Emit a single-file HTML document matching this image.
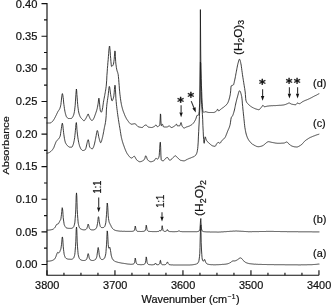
<!DOCTYPE html>
<html><head><meta charset="utf-8"><title>Absorbance spectra</title>
<style>html,body{margin:0;padding:0;background:#fff}svg{display:block}text{font-family:"Liberation Sans",Arial,Helvetica,sans-serif;fill:#111}</style></head><body>
<svg width="331" height="306" viewBox="0 0 331 306">
<rect width="331" height="306" fill="#fff"/>
<g stroke="#111" stroke-width="1.15" fill="none">
<path d="M47.0,3.1 V275.2 H318.9"/>
<path d="M41.5,264.50 H47.0 M44.0,248.19 H47.0 M41.5,231.89 H47.0 M44.0,215.59 H47.0 M41.5,199.28 H47.0 M44.0,182.97 H47.0 M41.5,166.67 H47.0 M44.0,150.37 H47.0 M41.5,134.06 H47.0 M44.0,117.75 H47.0 M41.5,101.45 H47.0 M44.0,85.15 H47.0 M41.5,68.84 H47.0 M44.0,52.53 H47.0 M41.5,36.23 H47.0 M44.0,19.93 H47.0 M41.5,3.62 H47.0 M46.95,275.2 V270.2 M63.95,275.2 V272.7 M80.95,275.2 V272.7 M97.95,275.2 V272.7 M114.95,275.2 V270.2 M131.95,275.2 V272.7 M148.95,275.2 V272.7 M165.95,275.2 V272.7 M182.95,275.2 V270.2 M199.95,275.2 V272.7 M216.95,275.2 V272.7 M233.95,275.2 V272.7 M250.95,275.2 V270.2 M267.95,275.2 V272.7 M284.95,275.2 V272.7 M301.95,275.2 V272.7 M318.95,275.2 V270.2"/>
</g>
<g stroke="#1a1a1a" stroke-width="0.85" fill="none" stroke-linejoin="round" stroke-linecap="round">
<polyline points="47.0,261.3 47.2,261.3 47.5,261.3 47.8,261.3 48.0,261.3 48.2,261.2 48.5,261.2 48.8,261.2 49.0,261.2 49.2,261.1 49.5,261.1 49.8,261.1 50.0,261.0 50.2,261.0 50.5,260.9 50.8,260.9 51.0,260.9 51.2,260.8 51.5,260.7 51.8,260.7 52.0,260.6 52.2,260.5 52.5,260.4 52.8,260.3 53.0,260.2 53.2,260.1 53.5,259.9 53.8,259.8 54.0,259.6 54.2,259.3 54.5,259.1 54.8,258.8 55.0,258.4 55.2,258.0 55.5,257.5 55.8,257.0 56.0,256.4 56.2,255.7 56.5,254.9 56.8,254.2 57.0,253.5 57.2,252.9 57.5,252.5 57.8,252.4 58.0,252.5 58.2,252.6 58.5,252.8 58.8,252.9 59.0,252.8 59.2,252.6 59.5,252.2 59.8,251.7 60.0,251.1 60.2,250.5 60.5,249.9 60.8,249.2 61.0,248.2 61.2,246.8 61.5,244.7 61.8,242.0 62.0,239.1 62.2,237.1 62.5,237.1 62.8,239.4 63.0,242.8 63.2,246.2 63.5,249.2 63.8,251.5 64.0,253.2 64.2,254.5 64.5,255.5 64.8,256.3 65.0,256.9 65.2,257.4 65.5,257.8 65.8,258.1 66.0,258.3 66.2,258.5 66.5,258.6 66.8,258.7 67.0,258.8 67.2,258.9 67.5,259.0 67.8,259.0 68.0,259.1 68.2,259.1 68.5,259.2 68.8,259.2 69.0,259.2 69.2,259.2 69.5,259.2 69.8,259.3 70.0,259.3 70.2,259.3 70.5,259.3 70.8,259.3 71.0,259.3 71.2,259.3 71.5,259.3 71.8,259.2 72.0,259.1 72.2,259.1 72.5,259.0 72.8,258.8 73.0,258.6 73.2,258.4 73.5,258.1 73.8,257.7 74.0,257.2 74.2,256.5 74.5,255.6 74.8,254.3 75.0,252.6 75.2,250.1 75.5,246.6 75.8,241.8 76.0,235.7 76.2,229.7 76.5,227.0 76.8,229.7 77.0,235.8 77.2,241.9 77.5,246.8 77.8,250.3 78.0,252.8 78.2,254.6 78.5,255.9 78.8,256.9 79.0,257.6 79.2,258.2 79.5,258.6 79.8,258.9 80.0,259.2 80.2,259.5 80.5,259.7 80.8,259.8 81.0,260.0 81.2,260.1 81.5,260.2 81.8,260.2 82.0,260.3 82.2,260.4 82.5,260.4 82.8,260.5 83.0,260.5 83.2,260.5 83.5,260.5 83.8,260.5 84.0,260.5 84.2,260.5 84.5,260.5 84.8,260.4 85.0,260.4 85.2,260.3 85.5,260.2 85.8,260.1 86.0,259.9 86.2,259.7 86.5,259.4 86.8,258.9 87.0,258.3 87.2,257.5 87.5,256.4 87.8,255.0 88.0,253.9 88.2,253.6 88.5,254.3 88.8,255.6 89.0,256.9 89.2,257.9 89.5,258.6 89.8,259.1 90.0,259.5 90.2,259.8 90.5,260.0 90.8,260.2 91.0,260.3 91.2,260.3 91.5,260.4 91.8,260.5 92.0,260.5 92.2,260.5 92.5,260.5 92.8,260.5 93.0,260.5 93.2,260.5 93.5,260.4 93.8,260.4 94.0,260.3 94.2,260.2 94.5,260.1 94.8,260.0 95.0,259.8 95.2,259.7 95.5,259.4 95.8,259.1 96.0,258.7 96.2,258.2 96.5,257.6 96.8,256.7 97.0,255.5 97.2,253.9 97.5,251.9 97.8,249.8 98.0,248.0 98.2,247.5 98.5,248.6 98.8,250.6 99.0,252.7 99.2,254.5 99.5,255.8 99.8,256.9 100.0,257.6 100.2,258.2 100.5,258.6 100.8,258.9 101.0,259.1 101.2,259.3 101.5,259.4 101.8,259.5 102.0,259.5 102.2,259.5 102.5,259.5 102.8,259.5 103.0,259.4 103.2,259.3 103.5,259.1 103.8,259.0 104.0,258.7 104.2,258.4 104.5,258.1 104.8,257.6 105.0,257.0 105.2,256.2 105.5,255.1 105.8,253.7 106.0,251.6 106.2,248.8 106.5,244.8 106.8,239.7 107.0,234.2 107.2,230.9 107.5,232.0 107.8,236.3 108.0,241.0 108.2,244.6 108.5,246.9 108.8,248.0 109.0,248.3 109.2,248.0 109.5,247.5 109.8,247.2 110.0,247.7 110.2,248.8 110.5,250.5 110.8,252.2 111.0,253.9 111.2,255.2 111.5,256.3 111.8,257.2 112.0,257.9 112.2,258.5 112.5,259.0 112.8,259.4 113.0,259.8 113.2,260.1 113.5,260.3 113.8,260.5 114.0,260.7 114.2,260.9 114.5,261.1 114.8,261.2 115.0,261.3 115.2,261.4 115.5,261.6 115.8,261.7 116.0,261.8 116.2,261.8 116.5,261.9 116.8,262.0 117.0,262.1 117.2,262.1 117.5,262.2 117.8,262.3 118.0,262.3 118.2,262.4 118.5,262.5 118.8,262.5 119.0,262.6 119.2,262.6 119.5,262.7 119.8,262.7 120.0,262.8 120.2,262.8 120.5,262.9 120.8,262.9 121.0,263.0 121.2,263.0 121.5,263.1 121.8,263.1 122.0,263.1 122.2,263.2 122.5,263.2 122.8,263.3 123.0,263.3 123.2,263.3 123.5,263.4 123.8,263.4 124.0,263.5 124.2,263.5 124.5,263.5 124.8,263.6 125.0,263.6 125.2,263.6 125.5,263.7 125.8,263.7 126.0,263.8 126.2,263.8 126.5,263.8 126.8,263.9 127.0,263.9 127.2,263.9 127.5,264.0 127.8,264.0 128.0,264.0 128.2,264.1 128.5,264.1 128.8,264.1 129.0,264.2 129.2,264.2 129.5,264.2 129.8,264.2 130.0,264.3 130.2,264.3 130.5,264.3 130.8,264.3 131.0,264.3 131.2,264.3 131.5,264.3 131.8,264.3 132.0,264.3 132.2,264.2 132.5,264.2 132.8,264.2 133.0,264.1 133.2,264.1 133.5,264.0 133.8,263.8 134.0,263.5 134.2,263.1 134.5,262.5 134.8,261.3 135.0,259.6 135.2,258.1 135.5,258.9 135.8,260.7 136.0,262.1 136.2,263.0 136.5,263.5 136.8,263.8 137.0,264.0 137.2,264.2 137.5,264.3 137.8,264.4 138.0,264.4 138.2,264.5 138.5,264.5 138.8,264.6 139.0,264.6 139.2,264.6 139.5,264.6 139.8,264.6 140.0,264.7 140.2,264.7 140.5,264.7 140.8,264.7 141.0,264.7 141.2,264.7 141.5,264.7 141.8,264.7 142.0,264.7 142.2,264.6 142.5,264.6 142.8,264.6 143.0,264.6 143.2,264.6 143.5,264.5 143.8,264.5 144.0,264.4 144.2,264.3 144.5,264.1 144.8,263.9 145.0,263.6 145.2,263.1 145.5,262.3 145.8,260.8 146.0,258.7 146.2,256.9 146.5,257.8 146.8,260.0 147.0,261.8 147.2,262.8 147.5,263.5 147.8,263.8 148.0,264.1 148.2,264.3 148.5,264.4 148.8,264.5 149.0,264.5 149.2,264.6 149.5,264.6 149.8,264.7 150.0,264.7 150.2,264.7 150.5,264.7 150.8,264.7 151.0,264.7 151.2,264.8 151.5,264.8 151.8,264.8 152.0,264.8 152.2,264.8 152.5,264.8 152.8,264.8 153.0,264.8 153.2,264.7 153.5,264.7 153.8,264.7 154.0,264.7 154.2,264.6 154.5,264.5 154.8,264.3 155.0,263.9 155.2,263.4 155.5,263.0 155.8,263.4 156.0,263.9 156.2,264.3 156.5,264.5 156.8,264.6 157.0,264.6 157.2,264.7 157.5,264.7 157.8,264.7 158.0,264.7 158.2,264.6 158.5,264.6 158.8,264.5 159.0,264.4 159.2,264.2 159.5,263.9 159.8,263.3 160.0,262.2 160.2,260.6 160.5,260.3 160.8,261.9 161.0,263.2 161.2,263.8 161.5,264.2 161.8,264.4 162.0,264.5 162.2,264.6 162.5,264.7 162.8,264.7 163.0,264.7 163.2,264.7 163.5,264.7 163.8,264.7 164.0,264.7 164.2,264.7 164.5,264.7 164.8,264.7 165.0,264.6 165.2,264.6 165.5,264.5 165.8,264.4 166.0,264.2 166.2,264.0 166.5,263.6 166.8,263.2 167.0,262.6 167.2,262.1 167.5,262.0 167.8,262.5 168.0,263.1 168.2,263.6 168.5,263.9 168.8,264.2 169.0,264.4 169.2,264.5 169.5,264.6 169.8,264.7 170.0,264.7 170.2,264.8 170.5,264.8 170.8,264.8 171.0,264.9 171.2,264.9 171.5,264.9 171.8,264.9 172.0,264.9 172.2,264.9 172.5,264.9 172.8,264.9 173.0,265.0 173.2,265.0 173.5,265.0 173.8,265.0 174.0,265.0 174.2,265.0 174.5,265.0 174.8,265.0 175.0,265.0 175.2,265.0 175.5,265.0 175.8,265.0 176.0,265.0 176.2,265.0 176.5,265.0 176.8,265.0 177.0,265.0 177.2,265.0 177.5,265.0 177.8,265.0 178.0,265.0 178.2,265.0 178.5,265.0 178.8,265.0 179.0,265.0 179.2,265.0 179.5,265.0 179.8,265.0 180.0,265.0 180.2,265.0 180.5,265.0 180.8,265.0 181.0,265.0 181.2,265.0 181.5,265.0 181.8,265.0 182.0,265.0 182.2,265.0 182.5,265.0 182.8,265.0 183.0,265.0 183.2,265.0 183.5,265.0 183.8,265.0 184.0,265.0 184.2,265.0 184.5,265.0 184.8,265.0 185.0,265.0 185.2,265.0 185.5,265.0 185.8,265.0 186.0,265.0 186.2,265.0 186.5,265.0 186.8,265.0 187.0,265.0 187.2,265.0 187.5,265.0 187.8,265.0 188.0,265.0 188.2,265.0 188.5,265.0 188.8,265.0 189.0,265.0 189.2,265.0 189.5,265.0 189.8,265.0 190.0,265.0 190.2,265.0 190.5,264.9 190.8,264.9 191.0,264.9 191.2,264.9 191.5,264.9 191.8,264.8 192.0,264.8 192.2,264.8 192.5,264.8 192.8,264.7 193.0,264.7 193.2,264.7 193.5,264.6 193.8,264.6 194.0,264.6 194.2,264.5 194.5,264.5 194.8,264.4 195.0,264.4 195.2,264.3 195.5,264.3 195.8,264.2 196.0,264.1 196.2,264.0 196.5,264.0 196.8,263.9 197.0,263.7 197.2,263.6 197.5,263.4 197.8,263.2 198.0,262.9 198.2,262.5 198.5,262.0 198.8,261.3 199.0,260.3 199.2,258.9 199.5,256.7 199.8,253.3 200.0,247.7 200.2,239.0 200.5,228.6 200.8,224.9 201.0,232.5 201.2,242.8 201.5,250.0 201.8,254.5 202.0,257.3 202.2,259.0 202.5,260.0 202.8,260.7 203.0,261.1 203.2,261.2 203.5,261.1 203.8,260.8 204.0,260.3 204.2,259.8 204.5,259.5 204.8,259.6 205.0,260.2 205.2,261.0 205.5,261.8 205.8,262.4 206.0,262.9 206.2,263.2 206.5,263.5 206.8,263.7 207.0,263.9 207.2,264.0 207.5,264.1 207.8,264.2 208.0,264.3 208.2,264.3 208.5,264.4 208.8,264.4 209.0,264.5 209.2,264.5 209.5,264.5 209.8,264.6 210.0,264.6 210.2,264.6 210.5,264.6 210.8,264.7 211.0,264.7 211.2,264.7 211.5,264.7 211.8,264.7 212.0,264.7 212.2,264.7 212.5,264.7 212.8,264.7 213.0,264.8 213.2,264.8 213.5,264.8 213.8,264.8 214.0,264.8 214.2,264.8 214.5,264.8 214.8,264.8 215.0,264.8 215.2,264.8 215.5,264.8 215.8,264.8 216.0,264.8 216.2,264.8 216.5,264.7 216.8,264.7 217.0,264.7 217.2,264.7 217.5,264.7 217.8,264.7 218.0,264.7 218.2,264.7 218.5,264.7 218.8,264.6 219.0,264.6 219.2,264.6 219.5,264.6 219.8,264.6 220.0,264.6 220.2,264.6 220.5,264.6 220.8,264.5 221.0,264.5 221.2,264.5 221.5,264.5 221.8,264.5 222.0,264.5 222.2,264.4 222.5,264.4 222.8,264.4 223.0,264.4 223.2,264.4 223.5,264.4 223.8,264.3 224.0,264.3 224.2,264.3 224.5,264.3 224.8,264.2 225.0,264.2 225.2,264.2 225.5,264.2 225.8,264.1 226.0,264.1 226.2,264.0 226.5,264.0 226.8,264.0 227.0,263.9 227.2,263.9 227.5,263.8 227.8,263.7 228.0,263.7 228.2,263.6 228.5,263.5 228.8,263.4 229.0,263.3 229.2,263.2 229.5,263.1 229.8,263.0 230.0,262.8 230.2,262.7 230.5,262.5 230.8,262.3 231.0,262.1 231.2,261.9 231.5,261.7 231.8,261.5 232.0,261.3 232.2,261.2 232.5,261.1 232.8,261.0 233.0,261.0 233.2,260.9 233.5,260.9 233.8,261.0 234.0,261.0 234.2,261.0 234.5,260.9 234.8,260.9 235.0,260.8 235.2,260.8 235.5,260.7 235.8,260.6 236.0,260.5 236.2,260.4 236.5,260.3 236.8,260.2 237.0,260.1 237.2,259.9 237.5,259.8 237.8,259.6 238.0,259.4 238.2,259.2 238.5,259.0 238.8,258.8 239.0,258.5 239.2,258.3 239.5,258.2 239.8,258.0 240.0,257.9 240.2,257.9 240.5,257.9 240.8,257.9 241.0,258.1 241.2,258.2 241.5,258.4 241.8,258.7 242.0,259.0 242.2,259.2 242.5,259.5 242.8,259.8 243.0,260.1 243.2,260.4 243.5,260.7 243.8,260.9 244.0,261.2 244.2,261.4 244.5,261.6 244.8,261.8 245.0,262.0 245.2,262.2 245.5,262.3 245.8,262.5 246.0,262.6 246.2,262.7 246.5,262.8 246.8,262.9 247.0,263.0 247.2,263.1 247.5,263.2 247.8,263.2 248.0,263.3 248.2,263.4 248.5,263.4 248.8,263.5 249.0,263.5 249.2,263.6 249.5,263.6 249.8,263.7 250.0,263.7 250.2,263.7 250.5,263.8 250.8,263.8 251.0,263.9 251.2,263.9 251.5,263.9 251.8,263.9 252.0,264.0 252.2,264.0 252.5,264.0 252.8,264.0 253.0,264.1 253.2,264.1 253.5,264.1 253.8,264.1 254.0,264.1 254.2,264.2 254.5,264.2 254.8,264.2 255.0,264.2 255.2,264.2 255.5,264.2 255.8,264.2 256.0,264.3 256.2,264.3 256.5,264.3 256.8,264.3 257.0,264.3 257.2,264.3 257.5,264.3 257.8,264.3 258.0,264.3 258.2,264.4 258.5,264.4 258.8,264.4 259.0,264.4 259.2,264.4 259.5,264.4 259.8,264.4 260.0,264.4 260.2,264.4 260.5,264.4 260.8,264.4 261.0,264.4 261.2,264.4 261.5,264.4 261.8,264.5 262.0,264.5 262.2,264.5 262.5,264.5 262.8,264.5 263.0,264.5 263.2,264.5 263.5,264.5 263.8,264.5 264.0,264.5 264.2,264.5 264.5,264.5 264.8,264.5 265.0,264.5 265.2,264.5 265.5,264.5 265.8,264.5 266.0,264.5 266.2,264.5 266.5,264.5 266.8,264.6 267.0,264.6 267.2,264.6 267.5,264.6 267.8,264.6 268.0,264.6 268.2,264.6 268.5,264.6 268.8,264.6 269.0,264.6 269.2,264.6 269.5,264.6 269.8,264.6 270.0,264.6 270.2,264.6 270.5,264.6 270.8,264.6 271.0,264.6 271.2,264.6 271.5,264.6 271.8,264.6 272.0,264.6 272.2,264.6 272.5,264.6 272.8,264.6 273.0,264.6 273.2,264.6 273.5,264.6 273.8,264.6 274.0,264.6 274.2,264.7 274.5,264.7 274.8,264.7 275.0,264.7 275.2,264.7 275.5,264.7 275.8,264.7 276.0,264.7 276.2,264.7 276.5,264.7 276.8,264.7 277.0,264.7 277.2,264.7 277.5,264.7 277.8,264.7 278.0,264.7 278.2,264.7 278.5,264.7 278.8,264.7 279.0,264.7 279.2,264.7 279.5,264.7 279.8,264.7 280.0,264.7 280.2,264.7 280.5,264.7 280.8,264.7 281.0,264.7 281.2,264.7 281.5,264.7 281.8,264.7 282.0,264.7 282.2,264.7 282.5,264.7 282.8,264.7 283.0,264.7 283.2,264.7 283.5,264.7 283.8,264.7 284.0,264.7 284.2,264.7 284.5,264.7 284.8,264.8 285.0,264.8 285.2,264.8 285.5,264.8 285.8,264.8 286.0,264.8 286.2,264.8 286.5,264.8 286.8,264.8 287.0,264.8 287.2,264.8 287.5,264.8 287.8,264.8 288.0,264.8 288.2,264.8 288.5,264.8 288.8,264.8 289.0,264.8 289.2,264.8 289.5,264.8 289.8,264.8 290.0,264.8 290.2,264.8 290.5,264.8 290.8,264.8 291.0,264.8 291.2,264.8 291.5,264.8 291.8,264.8 292.0,264.8 292.2,264.8 292.5,264.8 292.8,264.8 293.0,264.8 293.2,264.8 293.5,264.8 293.8,264.8 294.0,264.8 294.2,264.8 294.5,264.8 294.8,264.8 295.0,264.8 295.2,264.8 295.5,264.8 295.8,264.8 296.0,264.8 296.2,264.8 296.5,264.8 296.8,264.8 297.0,264.8 297.2,264.8 297.5,264.8 297.8,264.9 298.0,264.9 298.2,264.9 298.5,264.9 298.8,264.9 299.0,264.9 299.2,264.9 299.5,264.9 299.8,264.9 300.0,264.9 300.2,264.9 300.5,264.9 300.8,264.9 301.0,264.9 301.2,264.8 301.5,264.8 301.8,264.8 302.0,264.8 302.2,264.8 302.5,264.8 302.8,264.8 303.0,264.8 303.2,264.8 303.5,264.8 303.8,264.8 304.0,264.8 304.2,264.8 304.5,264.8 304.8,264.8 305.0,264.8 305.2,264.8 305.5,264.8 305.8,264.8 306.0,264.8 306.2,264.8 306.5,264.8 306.8,264.8 307.0,264.8 307.2,264.8 307.5,264.7 307.8,264.7 308.0,264.7 308.2,264.7 308.5,264.7 308.8,264.7 309.0,264.7 309.2,264.7 309.5,264.7 309.8,264.7 310.0,264.7 310.2,264.7 310.5,264.7 310.8,264.7 311.0,264.7 311.2,264.7 311.5,264.7 311.8,264.7 312.0,264.7 312.2,264.7 312.5,264.6 312.8,264.6 313.0,264.6 313.2,264.6 313.5,264.5 313.8,264.5 314.0,264.5 314.2,264.5 314.5,264.5 314.8,264.4 315.0,264.4 315.2,264.4 315.5,264.4 315.8,264.4 316.0,264.3 316.2,264.3 316.5,264.3 316.8,264.3 317.0,264.2 317.2,264.2 317.5,264.2 317.8,264.2 318.0,264.2 318.2,264.1 318.5,264.1 318.8,264.1 319.0,264.1"/>
<polyline points="47.0,230.2 47.2,230.2 47.5,230.1 47.8,230.1 48.0,230.1 48.2,230.1 48.5,230.1 48.8,230.1 49.0,230.0 49.2,230.0 49.5,230.0 49.8,230.0 50.0,229.9 50.2,229.9 50.5,229.9 50.8,229.8 51.0,229.8 51.2,229.7 51.5,229.7 51.8,229.6 52.0,229.5 52.2,229.5 52.5,229.4 52.8,229.3 53.0,229.2 53.2,229.0 53.5,228.9 53.8,228.7 54.0,228.5 54.2,228.3 54.5,228.0 54.8,227.7 55.0,227.4 55.2,227.0 55.5,226.5 55.8,226.0 56.0,225.5 56.2,225.0 56.5,224.6 56.8,224.3 57.0,224.2 57.2,224.1 57.5,224.1 57.8,224.1 58.0,224.0 58.2,223.9 58.5,223.6 58.8,223.2 59.0,222.7 59.2,222.2 59.5,221.6 59.8,221.2 60.0,220.8 60.2,220.4 60.5,220.0 60.8,219.3 61.0,218.2 61.2,216.6 61.5,214.3 61.8,211.5 62.0,208.9 62.2,207.7 62.5,208.5 62.8,211.2 63.0,214.5 63.2,217.5 63.5,220.0 63.8,221.9 64.0,223.4 64.2,224.5 64.5,225.3 64.8,225.9 65.0,226.4 65.2,226.8 65.5,227.1 65.8,227.4 66.0,227.6 66.2,227.7 66.5,227.9 66.8,228.0 67.0,228.0 67.2,228.1 67.5,228.2 67.8,228.2 68.0,228.2 68.2,228.3 68.5,228.3 68.8,228.3 69.0,228.3 69.2,228.3 69.5,228.4 69.8,228.4 70.0,228.4 70.2,228.4 70.5,228.4 70.8,228.4 71.0,228.4 71.2,228.4 71.5,228.3 71.8,228.3 72.0,228.2 72.2,228.1 72.5,228.0 72.8,227.8 73.0,227.6 73.2,227.4 73.5,227.0 73.8,226.6 74.0,226.0 74.2,225.3 74.5,224.2 74.8,222.9 75.0,221.0 75.2,218.3 75.5,214.4 75.8,209.1 76.0,202.4 76.2,195.8 76.5,192.9 76.8,195.9 77.0,202.5 77.2,209.3 77.5,214.6 77.8,218.5 78.0,221.2 78.2,223.2 78.5,224.6 78.8,225.7 79.0,226.5 79.2,227.1 79.5,227.6 79.8,228.0 80.0,228.3 80.2,228.6 80.5,228.8 80.8,229.0 81.0,229.1 81.2,229.2 81.5,229.3 81.8,229.4 82.0,229.5 82.2,229.6 82.5,229.6 82.8,229.7 83.0,229.7 83.2,229.8 83.5,229.8 83.8,229.8 84.0,229.8 84.2,229.8 84.5,229.8 84.8,229.8 85.0,229.7 85.2,229.7 85.5,229.6 85.8,229.5 86.0,229.4 86.2,229.2 86.5,228.9 86.8,228.6 87.0,228.1 87.2,227.4 87.5,226.4 87.8,225.3 88.0,224.3 88.2,224.1 88.5,224.7 88.8,225.8 89.0,226.8 89.2,227.7 89.5,228.3 89.8,228.8 90.0,229.1 90.2,229.3 90.5,229.5 90.8,229.6 91.0,229.7 91.2,229.8 91.5,229.8 91.8,229.9 92.0,229.9 92.2,229.9 92.5,229.9 92.8,229.9 93.0,229.9 93.2,229.9 93.5,229.9 93.8,229.8 94.0,229.8 94.2,229.7 94.5,229.6 94.8,229.5 95.0,229.4 95.2,229.2 95.5,229.0 95.8,228.8 96.0,228.5 96.2,228.1 96.5,227.7 96.8,227.0 97.0,226.2 97.2,225.0 97.5,223.6 97.8,221.7 98.0,219.5 98.2,217.6 98.5,216.7 98.8,217.5 99.0,219.3 99.2,221.3 99.5,223.1 99.8,224.5 100.0,225.5 100.2,226.2 100.5,226.7 100.8,227.0 101.0,227.3 101.2,227.4 101.5,227.5 101.8,227.6 102.0,227.6 102.2,227.6 102.5,227.6 102.8,227.6 103.0,227.6 103.2,227.5 103.5,227.5 103.8,227.4 104.0,227.2 104.2,227.0 104.5,226.7 104.8,226.3 105.0,225.8 105.2,225.1 105.5,224.1 105.8,222.8 106.0,220.9 106.2,218.3 106.5,214.7 106.8,210.2 107.0,205.6 107.2,203.0 107.5,204.0 107.8,207.7 108.0,212.1 108.2,215.8 108.5,218.4 108.8,220.3 109.0,221.5 109.2,222.3 109.5,223.0 109.8,223.5 110.0,223.9 110.2,224.4 110.5,224.9 110.8,225.4 111.0,225.9 111.2,226.4 111.5,226.9 111.8,227.4 112.0,227.8 112.2,228.1 112.5,228.5 112.8,228.8 113.0,229.0 113.2,229.2 113.5,229.4 113.8,229.6 114.0,229.8 114.2,229.9 114.5,230.0 114.8,230.1 115.0,230.2 115.2,230.3 115.5,230.4 115.8,230.5 116.0,230.5 116.2,230.6 116.5,230.7 116.8,230.7 117.0,230.8 117.2,230.8 117.5,230.8 117.8,230.9 118.0,230.9 118.2,230.9 118.5,231.0 118.8,231.0 119.0,231.0 119.2,231.1 119.5,231.1 119.8,231.1 120.0,231.1 120.2,231.2 120.5,231.2 120.8,231.2 121.0,231.2 121.2,231.2 121.5,231.2 121.8,231.2 122.0,231.2 122.2,231.3 122.5,231.3 122.8,231.3 123.0,231.3 123.2,231.3 123.5,231.3 123.8,231.3 124.0,231.3 124.2,231.3 124.5,231.3 124.8,231.3 125.0,231.4 125.2,231.4 125.5,231.4 125.8,231.4 126.0,231.4 126.2,231.4 126.5,231.4 126.8,231.4 127.0,231.4 127.2,231.4 127.5,231.4 127.8,231.4 128.0,231.4 128.2,231.4 128.5,231.4 128.8,231.4 129.0,231.4 129.2,231.4 129.5,231.4 129.8,231.4 130.0,231.4 130.2,231.4 130.5,231.4 130.8,231.4 131.0,231.4 131.2,231.4 131.5,231.4 131.8,231.4 132.0,231.4 132.2,231.3 132.5,231.3 132.8,231.3 133.0,231.2 133.2,231.2 133.5,231.1 133.8,231.0 134.0,230.8 134.2,230.5 134.5,229.9 134.8,229.0 135.0,227.4 135.2,226.0 135.5,226.7 135.8,228.4 136.0,229.6 136.2,230.3 136.5,230.7 136.8,230.9 137.0,231.1 137.2,231.2 137.5,231.3 137.8,231.3 138.0,231.3 138.2,231.4 138.5,231.4 138.8,231.4 139.0,231.4 139.2,231.4 139.5,231.4 139.8,231.5 140.0,231.5 140.2,231.5 140.5,231.5 140.8,231.5 141.0,231.5 141.2,231.5 141.5,231.5 141.8,231.5 142.0,231.5 142.2,231.5 142.5,231.4 142.8,231.4 143.0,231.4 143.2,231.4 143.5,231.4 143.8,231.3 144.0,231.3 144.2,231.2 144.5,231.1 144.8,231.0 145.0,230.7 145.2,230.4 145.5,229.8 145.8,228.6 146.0,226.8 146.2,225.2 146.5,226.0 146.8,228.0 147.0,229.4 147.2,230.2 147.5,230.6 147.8,230.9 148.0,231.1 148.2,231.2 148.5,231.3 148.8,231.3 149.0,231.4 149.2,231.4 149.5,231.4 149.8,231.5 150.0,231.5 150.2,231.5 150.5,231.5 150.8,231.5 151.0,231.5 151.2,231.5 151.5,231.5 151.8,231.6 152.0,231.6 152.2,231.6 152.5,231.6 152.8,231.6 153.0,231.6 153.2,231.6 153.5,231.6 153.8,231.6 154.0,231.6 154.2,231.6 154.5,231.6 154.8,231.6 155.0,231.6 155.2,231.6 155.5,231.6 155.8,231.6 156.0,231.6 156.2,231.6 156.5,231.6 156.8,231.6 157.0,231.6 157.2,231.5 157.5,231.5 157.8,231.5 158.0,231.5 158.2,231.5 158.5,231.4 158.8,231.3 159.0,231.2 159.2,231.1 159.5,230.7 159.8,230.3 160.0,230.2 160.2,230.5 160.5,230.8 160.8,230.8 161.0,230.7 161.2,230.4 161.5,229.8 161.8,228.6 162.0,226.6 162.2,225.7 162.5,227.4 162.8,229.2 163.0,230.2 163.2,230.7 163.5,231.0 163.8,231.1 164.0,231.2 164.2,231.3 164.5,231.4 164.8,231.4 165.0,231.4 165.2,231.4 165.5,231.4 165.8,231.3 166.0,231.3 166.2,231.2 166.5,231.0 166.8,230.7 167.0,230.2 167.2,229.7 167.5,229.7 167.8,230.1 168.0,230.6 168.2,231.0 168.5,231.2 168.8,231.3 169.0,231.4 169.2,231.5 169.5,231.5 169.8,231.5 170.0,231.6 170.2,231.6 170.5,231.6 170.8,231.6 171.0,231.6 171.2,231.6 171.5,231.6 171.8,231.6 172.0,231.6 172.2,231.6 172.5,231.7 172.8,231.7 173.0,231.7 173.2,231.7 173.5,231.7 173.8,231.7 174.0,231.7 174.2,231.7 174.5,231.7 174.8,231.7 175.0,231.7 175.2,231.7 175.5,231.6 175.8,231.6 176.0,231.6 176.2,231.6 176.5,231.6 176.8,231.6 177.0,231.6 177.2,231.5 177.5,231.5 177.8,231.4 178.0,231.3 178.2,231.2 178.5,231.0 178.8,230.8 179.0,230.7 179.2,230.8 179.5,231.0 179.8,231.2 180.0,231.3 180.2,231.4 180.5,231.5 180.8,231.6 181.0,231.6 181.2,231.6 181.5,231.6 181.8,231.6 182.0,231.7 182.2,231.7 182.5,231.7 182.8,231.7 183.0,231.7 183.2,231.7 183.5,231.7 183.8,231.7 184.0,231.7 184.2,231.7 184.5,231.7 184.8,231.7 185.0,231.7 185.2,231.7 185.5,231.7 185.8,231.7 186.0,231.7 186.2,231.7 186.5,231.7 186.8,231.7 187.0,231.7 187.2,231.7 187.5,231.7 187.8,231.7 188.0,231.7 188.2,231.7 188.5,231.7 188.8,231.7 189.0,231.7 189.2,231.7 189.5,231.7 189.8,231.7 190.0,231.7 190.2,231.7 190.5,231.7 190.8,231.7 191.0,231.7 191.2,231.7 191.5,231.7 191.8,231.7 192.0,231.7 192.2,231.7 192.5,231.7 192.8,231.7 193.0,231.7 193.2,231.7 193.5,231.7 193.8,231.7 194.0,231.7 194.2,231.7 194.5,231.7 194.8,231.7 195.0,231.7 195.2,231.7 195.5,231.7 195.8,231.7 196.0,231.7 196.2,231.7 196.5,231.7 196.8,231.7 197.0,231.6 197.2,231.6 197.5,231.6 197.8,231.5 198.0,231.5 198.2,231.4 198.5,231.3 198.8,231.2 199.0,231.1 199.2,230.8 199.5,230.4 199.8,229.6 200.0,228.3 200.2,225.6 200.5,220.8 200.8,218.5 201.0,222.9 201.2,226.9 201.5,228.9 201.8,230.0 202.0,230.6 202.2,230.9 202.5,231.2 202.8,231.3 203.0,231.4 203.2,231.5 203.5,231.6 203.8,231.6 204.0,231.7 204.2,231.7 204.5,231.7 204.8,231.8 205.0,231.8 205.2,231.8 205.5,231.8 205.8,231.8 206.0,231.8 206.2,231.8 206.5,231.9 206.8,231.9 207.0,231.9 207.2,231.9 207.5,231.9 207.8,231.9 208.0,231.9 208.2,231.9 208.5,231.9 208.8,231.9 209.0,231.9 209.2,231.9 209.5,231.9 209.8,231.9 210.0,231.9 210.2,232.0 210.5,232.0 210.8,232.0 211.0,232.0 211.2,232.0 211.5,232.0 211.8,232.0 212.0,232.0 212.2,232.0 212.5,232.0 212.8,232.0 213.0,232.0 213.2,232.0 213.5,232.0 213.8,232.0 214.0,232.0 214.2,232.0 214.5,232.0 214.8,232.0 215.0,232.0 215.2,232.0 215.5,232.0 215.8,232.0 216.0,232.0 216.2,232.0 216.5,232.0 216.8,232.1 217.0,232.1 217.2,232.1 217.5,232.1 217.8,232.1 218.0,232.1 218.2,232.1 218.5,232.1 218.8,232.1 219.0,232.1 219.2,232.1 219.5,232.0 219.8,232.0 220.0,232.0 220.2,232.0 220.5,232.0 220.8,232.0 221.0,232.0 221.2,231.9 221.5,231.9 221.8,231.9 222.0,231.9 222.2,231.9 222.5,231.9 222.8,231.8 223.0,231.8 223.2,231.8 223.5,231.8 223.8,231.8 224.0,231.8 224.2,231.7 224.5,231.7 224.8,231.7 225.0,231.7 225.2,231.7 225.5,231.7 225.8,231.6 226.0,231.6 226.2,231.6 226.5,231.6 226.8,231.6 227.0,231.6 227.2,231.5 227.5,231.5 227.8,231.5 228.0,231.5 228.2,231.5 228.5,231.5 228.8,231.4 229.0,231.4 229.2,231.4 229.5,231.4 229.8,231.4 230.0,231.4 230.2,231.3 230.5,231.3 230.8,231.3 231.0,231.3 231.2,231.3 231.5,231.3 231.8,231.2 232.0,231.2 232.2,231.2 232.5,231.2 232.8,231.2 233.0,231.2 233.2,231.1 233.5,231.1 233.8,231.1 234.0,231.1 234.2,231.1 234.5,231.1 234.8,231.1 235.0,231.0 235.2,231.0 235.5,231.0 235.8,231.0 236.0,231.0 236.2,231.0 236.5,231.0 236.8,231.0 237.0,231.1 237.2,231.1 237.5,231.1 237.8,231.1 238.0,231.1 238.2,231.1 238.5,231.1 238.8,231.2 239.0,231.2 239.2,231.2 239.5,231.2 239.8,231.2 240.0,231.2 240.2,231.2 240.5,231.2 240.8,231.3 241.0,231.3 241.2,231.3 241.5,231.3 241.8,231.3 242.0,231.3 242.2,231.3 242.5,231.3 242.8,231.4 243.0,231.4 243.2,231.4 243.5,231.4 243.8,231.4 244.0,231.4 244.2,231.4 244.5,231.5 244.8,231.5 245.0,231.5 245.2,231.5 245.5,231.5 245.8,231.5 246.0,231.5 246.2,231.5 246.5,231.6 246.8,231.6 247.0,231.6 247.2,231.6 247.5,231.6 247.8,231.6 248.0,231.6 248.2,231.7 248.5,231.7 248.8,231.7 249.0,231.7 249.2,231.7 249.5,231.7 249.8,231.7 250.0,231.7 250.2,231.7 250.5,231.7 250.8,231.7 251.0,231.7 251.2,231.7 251.5,231.7 251.8,231.7 252.0,231.6 252.2,231.6 252.5,231.6 252.8,231.6 253.0,231.6 253.2,231.6 253.5,231.6 253.8,231.6 254.0,231.6 254.2,231.6 254.5,231.6 254.8,231.6 255.0,231.6 255.2,231.6 255.5,231.6 255.8,231.6 256.0,231.6 256.2,231.6 256.5,231.6 256.8,231.6 257.0,231.6 257.2,231.6 257.5,231.6 257.8,231.6 258.0,231.6 258.2,231.6 258.5,231.6 258.8,231.6 259.0,231.5 259.2,231.5 259.5,231.5 259.8,231.5 260.0,231.5 260.2,231.5 260.5,231.5 260.8,231.5 261.0,231.5 261.2,231.5 261.5,231.5 261.8,231.5 262.0,231.5 262.2,231.5 262.5,231.5 262.8,231.5 263.0,231.5 263.2,231.5 263.5,231.5 263.8,231.5 264.0,231.5 264.2,231.5 264.5,231.5 264.8,231.5 265.0,231.5 265.2,231.5 265.5,231.5 265.8,231.5 266.0,231.5 266.2,231.4 266.5,231.4 266.8,231.4 267.0,231.4 267.2,231.4 267.5,231.4 267.8,231.4 268.0,231.4 268.2,231.4 268.5,231.4 268.8,231.4 269.0,231.4 269.2,231.4 269.5,231.4 269.8,231.4 270.0,231.4 270.2,231.4 270.5,231.4 270.8,231.4 271.0,231.4 271.2,231.4 271.5,231.4 271.8,231.4 272.0,231.4 272.2,231.4 272.5,231.4 272.8,231.4 273.0,231.4 273.2,231.4 273.5,231.4 273.8,231.5 274.0,231.5 274.2,231.5 274.5,231.5 274.8,231.5 275.0,231.5 275.2,231.5 275.5,231.5 275.8,231.5 276.0,231.5 276.2,231.5 276.5,231.5 276.8,231.5 277.0,231.5 277.2,231.5 277.5,231.5 277.8,231.5 278.0,231.5 278.2,231.5 278.5,231.5 278.8,231.5 279.0,231.5 279.2,231.5 279.5,231.5 279.8,231.5 280.0,231.5 280.2,231.5 280.5,231.6 280.8,231.6 281.0,231.6 281.2,231.6 281.5,231.6 281.8,231.6 282.0,231.6 282.2,231.6 282.5,231.6 282.8,231.6 283.0,231.6 283.2,231.6 283.5,231.6 283.8,231.6 284.0,231.6 284.2,231.6 284.5,231.6 284.8,231.6 285.0,231.6 285.2,231.6 285.5,231.6 285.8,231.6 286.0,231.6 286.2,231.6 286.5,231.6 286.8,231.6 287.0,231.6 287.2,231.7 287.5,231.7 287.8,231.7 288.0,231.7 288.2,231.7 288.5,231.7 288.8,231.7 289.0,231.7 289.2,231.7 289.5,231.7 289.8,231.7 290.0,231.7 290.2,231.7 290.5,231.7 290.8,231.7 291.0,231.7 291.2,231.7 291.5,231.7 291.8,231.7 292.0,231.7 292.2,231.7 292.5,231.7 292.8,231.7 293.0,231.7 293.2,231.7 293.5,231.7 293.8,231.7 294.0,231.7 294.2,231.7 294.5,231.7 294.8,231.7 295.0,231.7 295.2,231.7 295.5,231.7 295.8,231.7 296.0,231.7 296.2,231.7 296.5,231.7 296.8,231.7 297.0,231.7 297.2,231.7 297.5,231.7 297.8,231.7 298.0,231.8 298.2,231.8 298.5,231.8 298.8,231.8 299.0,231.8 299.2,231.8 299.5,231.8 299.8,231.8 300.0,231.8 300.2,231.8 300.5,231.8 300.8,231.8 301.0,231.8 301.2,231.8 301.5,231.8 301.8,231.8 302.0,231.8 302.2,231.8 302.5,231.8 302.8,231.8 303.0,231.8 303.2,231.8 303.5,231.8 303.8,231.8 304.0,231.8 304.2,231.8 304.5,231.8 304.8,231.8 305.0,231.8 305.2,231.8 305.5,231.8 305.8,231.8 306.0,231.8 306.2,231.8 306.5,231.8 306.8,231.8 307.0,231.8 307.2,231.8 307.5,231.8 307.8,231.8 308.0,231.8 308.2,231.8 308.5,231.8 308.8,231.8 309.0,231.8 309.2,231.8 309.5,231.8 309.8,231.8 310.0,231.8 310.2,231.8 310.5,231.8 310.8,231.8 311.0,231.8 311.2,231.8 311.5,231.8 311.8,231.8 312.0,231.8 312.2,231.8 312.5,231.9 312.8,231.9 313.0,231.9 313.2,231.9 313.5,231.9 313.8,231.9 314.0,231.9 314.2,231.9 314.5,231.9 314.8,231.9 315.0,231.9 315.2,231.9 315.5,231.9 315.8,231.9 316.0,231.9 316.2,231.9 316.5,231.9 316.8,231.9 317.0,231.9 317.2,231.9 317.5,231.9 317.8,231.9 318.0,231.9 318.2,231.9 318.5,231.9 318.8,231.9 319.0,231.9"/>
<polyline points="46.9,153.2 47.1,153.2 47.4,153.1 47.6,153.1 47.9,153.0 48.1,152.9 48.4,152.9 48.6,152.8 48.9,152.7 49.1,152.6 49.4,152.5 49.6,152.3 49.9,152.2 50.1,152.0 50.4,151.8 50.6,151.6 50.9,151.4 51.1,151.2 51.4,150.9 51.6,150.7 51.9,150.4 52.1,150.1 52.4,149.8 52.6,149.5 52.9,149.1 53.1,148.8 53.4,148.3 53.6,147.9 53.9,147.4 54.1,146.8 54.4,146.1 54.6,145.4 54.9,144.7 55.1,144.1 55.4,143.4 55.6,142.8 55.9,142.2 56.1,141.7 56.4,141.3 56.6,141.0 56.9,140.7 57.1,140.4 57.4,140.1 57.6,139.8 57.9,139.6 58.1,139.3 58.4,139.1 58.6,138.8 58.9,138.5 59.1,138.2 59.4,137.8 59.6,137.3 59.9,136.8 60.1,136.1 60.4,135.1 60.6,133.5 60.9,131.7 61.1,130.1 61.4,128.4 61.6,126.5 61.9,124.9 62.1,123.7 62.4,123.2 62.6,124.0 62.9,125.8 63.1,128.2 63.4,130.4 63.6,132.5 63.9,134.8 64.2,136.9 64.4,138.4 64.7,139.7 64.9,140.8 65.2,141.8 65.4,142.6 65.7,143.1 65.9,143.6 66.2,144.1 66.4,144.4 66.7,144.8 66.9,145.1 67.2,145.4 67.4,145.6 67.7,145.8 67.9,146.1 68.2,146.3 68.4,146.5 68.7,146.7 68.9,146.9 69.2,147.0 69.4,147.1 69.7,147.2 69.9,147.2 70.2,147.2 70.4,147.2 70.7,147.2 70.9,147.2 71.2,147.2 71.4,147.2 71.7,147.2 71.9,147.1 72.2,146.9 72.4,146.4 72.7,145.9 72.9,145.2 73.2,144.5 73.4,143.8 73.7,142.9 73.9,141.8 74.2,140.6 74.4,139.2 74.7,137.6 74.9,135.4 75.2,132.9 75.4,130.4 75.7,127.7 75.9,124.8 76.2,122.7 76.4,122.6 76.7,125.5 76.9,129.2 77.2,131.8 77.4,134.1 77.7,136.1 77.9,137.9 78.2,139.5 78.4,141.0 78.7,142.3 78.9,143.5 79.2,144.5 79.4,145.4 79.7,146.2 79.9,146.9 80.2,147.5 80.4,148.1 80.7,148.6 80.9,149.0 81.2,149.3 81.4,149.5 81.7,149.8 81.9,150.0 82.2,150.2 82.4,150.4 82.7,150.5 82.9,150.5 83.2,150.5 83.4,150.5 83.7,150.4 83.9,150.4 84.2,150.3 84.4,150.2 84.7,150.1 84.9,149.9 85.2,149.7 85.4,149.2 85.7,148.7 85.9,148.1 86.2,147.2 86.4,146.0 86.7,144.9 86.9,143.7 87.2,142.6 87.4,141.5 87.7,140.6 87.9,140.0 88.2,139.7 88.4,140.0 88.7,141.0 88.9,142.5 89.2,144.2 89.4,145.8 89.7,146.9 89.9,147.3 90.2,147.6 90.4,147.8 90.7,148.1 90.9,148.3 91.2,148.4 91.4,148.6 91.7,148.7 91.9,148.8 92.2,148.8 92.4,148.8 92.7,148.6 92.9,148.2 93.2,147.7 93.4,147.1 93.7,146.5 93.9,145.8 94.2,145.1 94.4,144.1 94.7,143.1 94.9,141.9 95.2,140.7 95.4,139.4 95.7,138.2 95.9,137.0 96.2,135.5 96.4,133.9 96.7,132.5 96.9,131.3 97.2,130.6 97.4,130.6 97.7,131.1 97.9,132.2 98.2,133.5 98.4,135.0 98.7,136.4 98.9,137.6 99.2,138.5 99.4,139.5 99.7,140.4 99.9,141.2 100.2,142.0 100.4,142.5 100.7,142.7 100.9,142.6 101.2,142.1 101.4,141.4 101.7,140.5 101.9,139.6 102.2,138.6 102.4,137.6 102.7,136.6 102.9,135.4 103.2,134.2 103.4,132.9 103.7,131.6 103.9,130.2 104.2,128.8 104.4,127.5 104.7,126.3 104.9,125.2 105.2,124.0 105.4,122.6 105.7,121.0 105.9,119.0 106.2,115.6 106.4,109.9 106.7,106.6 106.9,104.2 107.2,102.2 107.4,100.4 107.7,98.8 107.9,97.2 108.2,95.4 108.4,93.2 108.7,90.6 108.9,88.2 109.2,86.6 109.4,86.4 109.7,87.3 109.9,89.0 110.2,91.0 110.4,93.0 110.7,94.7 110.9,96.1 111.2,97.6 111.4,99.0 111.7,100.1 111.9,100.7 112.2,100.8 112.4,100.5 112.7,100.1 112.9,99.4 113.2,98.7 113.4,97.8 113.7,96.9 113.9,95.4 114.2,92.7 114.4,89.6 114.7,86.8 114.9,85.2 115.2,85.7 115.4,89.2 115.7,94.1 115.9,98.7 116.2,101.6 116.4,104.2 116.7,106.4 116.9,108.5 117.2,110.5 117.4,112.5 117.7,114.3 117.9,116.1 118.2,117.8 118.4,119.5 118.7,121.1 118.9,122.7 119.2,124.2 119.4,125.7 119.7,127.1 119.9,128.6 120.2,130.1 120.4,131.7 120.7,133.3 120.9,134.9 121.2,136.3 121.4,137.6 121.7,138.6 121.9,139.6 122.2,140.6 122.4,141.5 122.7,142.3 122.9,143.1 123.2,143.9 123.4,144.6 123.7,145.3 123.9,146.0 124.2,146.7 124.4,147.4 124.7,148.1 124.9,148.7 125.2,149.4 125.4,150.0 125.7,150.6 125.9,151.2 126.2,151.7 126.4,152.2 126.7,152.7 126.9,153.2 127.2,153.6 127.4,153.9 127.7,154.3 127.9,154.7 128.2,155.0 128.4,155.4 128.7,155.7 128.9,156.0 129.2,156.3 129.4,156.6 129.7,156.9 129.9,157.2 130.2,157.4 130.4,157.6 130.7,157.7 130.9,157.9 131.2,158.0 131.4,158.0 131.7,158.0 131.9,157.9 132.2,157.8 132.4,157.6 132.7,157.4 132.9,157.2 133.2,156.9 133.4,156.7 133.7,156.5 133.9,156.4 134.2,156.3 134.4,156.3 134.7,156.5 134.9,156.8 135.2,157.2 135.4,157.8 135.7,158.3 135.9,158.8 136.2,159.2 136.4,159.6 136.7,159.8 136.9,160.1 137.2,160.3 137.4,160.5 137.7,160.7 137.9,160.9 138.2,161.1 138.4,161.2 138.7,161.4 138.9,161.5 139.2,161.6 139.4,161.7 139.7,161.7 139.9,161.7 140.2,161.7 140.4,161.7 140.7,161.6 140.9,161.5 141.2,161.5 141.4,161.4 141.7,161.3 141.9,161.2 142.2,161.1 142.4,160.9 142.7,160.8 142.9,160.7 143.2,160.5 143.4,160.4 143.7,160.2 143.9,159.9 144.2,159.6 144.4,159.3 144.7,158.9 144.9,158.2 145.2,157.2 145.4,156.3 145.7,155.8 145.9,155.9 146.2,156.3 146.4,156.8 146.7,157.5 146.9,158.3 147.2,159.0 147.4,159.5 147.7,159.9 147.9,160.2 148.2,160.4 148.4,160.6 148.7,160.8 148.9,161.0 149.2,161.2 149.4,161.3 149.7,161.4 149.9,161.5 150.2,161.6 150.4,161.7 150.7,161.7 150.9,161.7 151.2,161.7 151.4,161.7 151.7,161.6 151.9,161.6 152.2,161.5 152.4,161.4 152.7,161.4 152.9,161.3 153.2,161.2 153.4,161.1 153.7,161.0 153.9,160.8 154.2,160.7 154.4,160.4 154.7,160.0 154.9,159.6 155.2,159.2 155.4,158.8 155.7,158.5 155.9,158.3 156.2,158.3 156.4,158.5 156.7,158.8 156.9,159.0 157.2,159.2 157.4,159.2 157.7,159.1 157.9,158.9 158.2,158.5 158.4,158.1 158.7,157.6 158.9,157.0 159.2,155.8 159.4,152.8 159.7,148.8 159.9,144.9 160.2,142.2 160.4,142.3 160.7,147.8 160.9,155.1 161.2,159.8 161.4,160.2 161.7,160.3 161.9,160.5 162.2,160.6 162.4,160.7 162.7,160.7 162.9,160.8 163.2,160.8 163.4,160.8 163.7,160.6 163.9,160.4 164.2,160.1 164.4,159.8 164.7,159.5 164.9,159.1 165.2,158.8 165.4,158.6 165.7,158.3 165.9,158.2 166.2,158.0 166.4,157.8 166.7,157.7 166.9,157.6 167.2,157.5 167.4,157.5 167.7,157.6 167.9,157.9 168.2,158.3 168.4,158.6 168.7,159.1 168.9,159.5 169.2,159.8 169.4,160.1 169.7,160.3 169.9,160.3 170.2,160.2 170.4,160.1 170.7,160.0 170.9,159.8 171.2,159.6 171.4,159.3 171.7,159.1 171.9,158.8 172.2,158.5 172.4,158.3 172.7,158.0 172.9,157.8 173.2,157.5 173.4,157.3 173.7,157.1 173.9,156.8 174.2,156.5 174.4,156.3 174.7,156.1 174.9,155.9 175.2,155.8 175.4,155.8 175.7,155.9 175.9,156.1 176.2,156.3 176.4,156.5 176.7,156.8 176.9,157.1 177.2,157.4 177.4,157.6 177.7,157.8 177.9,158.0 178.2,158.3 178.4,158.5 178.7,158.8 178.9,159.1 179.2,159.3 179.4,159.5 179.7,159.7 179.9,159.9 180.2,160.1 180.4,160.2 180.7,160.3 180.9,160.4 181.2,160.4 181.4,160.5 181.7,160.5 181.9,160.6 182.2,160.6 182.4,160.7 182.7,160.7 182.9,160.7 183.2,160.8 183.4,160.8 183.7,160.8 183.9,160.8 184.2,160.8 184.4,160.8 184.7,160.7 184.9,160.6 185.2,160.5 185.4,160.4 185.7,160.2 185.9,160.1 186.2,159.9 186.4,159.8 186.7,159.6 186.9,159.5 187.2,159.4 187.4,159.2 187.7,159.1 187.9,159.0 188.2,158.9 188.4,158.8 188.7,158.7 188.9,158.6 189.2,158.5 189.4,158.4 189.7,158.3 189.9,158.2 190.2,158.1 190.4,158.1 190.7,157.9 190.9,157.8 191.2,157.7 191.4,157.6 191.7,157.5 191.9,157.4 192.2,157.3 192.4,157.2 192.7,157.1 192.9,157.0 193.2,156.9 193.4,156.8 193.7,156.7 193.9,156.5 194.2,156.4 194.4,156.2 194.7,156.1 194.9,155.9 195.2,155.7 195.4,155.4 195.7,155.2 195.9,154.8 196.2,154.4 196.4,154.0 196.7,153.4 196.9,152.7 197.2,151.7 197.4,150.3 197.7,148.6 197.9,146.3 198.2,142.1 198.4,136.9 198.7,131.7 198.9,127.0 199.2,122.0 199.4,116.3 199.7,110.3 199.9,102.2 200.2,84.2 200.4,62.0 200.7,63.3 200.9,80.0 201.2,91.5 201.4,100.0 201.7,104.7 201.9,108.0 202.2,110.9 202.4,114.3 202.7,119.3 202.9,125.7 203.2,131.2 203.4,136.1 203.7,139.6 203.9,142.4 204.2,143.3 204.4,142.1 204.7,140.0 204.9,138.0 205.2,136.8 205.4,137.0 205.7,137.8 205.9,138.8 206.2,139.6 206.4,140.2 206.7,140.6 206.9,140.9 207.2,141.3 207.4,141.6 207.7,141.8 207.9,142.1 208.2,142.3 208.4,142.6 208.7,142.8 208.9,143.0 209.2,143.3 209.4,143.5 209.7,143.7 209.9,144.0 210.2,144.2 210.4,144.4 210.7,144.6 210.9,144.8 211.2,145.0 211.4,145.2 211.7,145.4 211.9,145.5 212.2,145.7 212.4,145.8 212.7,145.8 212.9,145.9 213.2,146.0 213.4,146.1 213.7,146.1 213.9,146.2 214.2,146.2 214.4,146.3 214.7,146.3 214.9,146.3 215.2,146.3 215.4,146.0 215.7,145.7 215.9,145.2 216.2,144.7 216.4,144.2 216.7,143.7 216.9,143.4 217.2,143.2 217.4,143.0 217.7,142.9 217.9,142.7 218.2,142.6 218.4,142.5 218.7,142.5 218.9,142.6 219.2,142.8 219.4,143.1 219.7,143.3 219.9,143.3 220.2,143.1 220.4,142.9 220.7,142.5 220.9,142.1 221.2,141.6 221.4,141.2 221.7,140.9 221.9,140.6 222.2,140.3 222.4,140.1 222.7,139.9 222.9,139.6 223.2,139.4 223.4,139.2 223.7,139.0 223.9,138.8 224.2,138.5 224.4,138.3 224.7,138.0 224.9,137.6 225.2,137.3 225.4,136.8 225.7,136.3 225.9,135.7 226.2,135.1 226.4,134.4 226.7,133.8 226.9,133.1 227.2,132.4 227.4,131.8 227.7,131.1 227.9,130.6 228.2,130.0 228.4,129.4 228.7,128.9 228.9,128.3 229.2,127.6 229.4,127.0 229.7,126.2 229.9,125.4 230.2,124.3 230.4,122.8 230.7,121.0 230.9,119.3 231.2,118.0 231.4,117.3 231.7,116.9 231.9,116.6 232.2,116.3 232.4,116.0 232.7,115.5 232.9,114.9 233.2,114.3 233.4,113.5 233.7,112.7 233.9,111.9 234.2,111.0 234.4,110.0 234.7,108.9 234.9,107.7 235.2,106.4 235.4,105.2 235.7,104.0 235.9,102.9 236.2,101.8 236.4,100.8 236.7,99.8 236.9,98.8 237.2,97.9 237.4,97.0 237.7,96.2 237.9,95.2 238.2,94.2 238.4,93.3 238.7,92.4 238.9,91.7 239.2,91.1 239.4,90.8 239.7,90.8 239.9,91.0 240.2,91.4 240.4,91.9 240.7,92.6 240.9,93.4 241.2,94.3 241.4,95.4 241.7,96.5 241.9,98.1 242.2,100.9 242.4,103.9 242.7,106.5 242.9,109.0 243.2,111.5 243.4,113.9 243.7,116.2 243.9,118.6 244.2,121.1 244.4,123.5 244.7,125.8 244.9,127.7 245.2,129.2 245.4,130.5 245.7,131.8 245.9,132.9 246.2,134.0 246.4,134.9 246.7,135.7 246.9,136.3 247.2,137.0 247.4,137.6 247.7,138.1 247.9,138.7 248.2,139.1 248.4,139.6 248.7,140.0 248.9,140.4 249.2,140.7 249.4,141.1 249.7,141.4 249.9,141.7 250.2,142.0 250.4,142.3 250.7,142.5 250.9,142.8 251.2,143.0 251.4,143.3 251.7,143.5 251.9,143.7 252.2,143.9 252.4,144.1 252.7,144.3 252.9,144.5 253.2,144.6 253.4,144.8 253.7,144.9 253.9,145.0 254.2,145.2 254.4,145.3 254.7,145.5 254.9,145.6 255.2,145.7 255.4,145.9 255.7,146.0 255.9,146.1 256.1,146.2 256.4,146.3 256.6,146.4 256.9,146.5 257.1,146.5 257.4,146.6 257.6,146.6 257.9,146.7 258.1,146.7 258.4,146.7 258.6,146.7 258.9,146.7 259.1,146.7 259.4,146.6 259.6,146.6 259.9,146.5 260.1,146.5 260.4,146.4 260.6,146.4 260.9,146.3 261.1,146.2 261.4,146.2 261.6,146.1 261.9,146.0 262.1,145.9 262.4,145.8 262.6,145.7 262.9,145.6 263.1,145.5 263.4,145.3 263.6,145.1 263.9,144.9 264.1,144.7 264.4,144.5 264.6,144.2 264.9,144.0 265.1,143.8 265.4,143.6 265.6,143.4 265.9,143.2 266.1,143.0 266.4,142.8 266.6,142.6 266.9,142.4 267.1,142.2 267.4,142.0 267.6,141.9 267.9,141.8 268.1,141.7 268.4,141.7 268.6,141.7 268.9,141.7 269.1,141.8 269.4,141.8 269.6,141.8 269.9,141.9 270.1,142.0 270.4,142.0 270.6,142.1 270.9,142.1 271.1,142.2 271.4,142.3 271.6,142.3 271.9,142.4 272.1,142.4 272.4,142.5 272.6,142.5 272.9,142.6 273.1,142.6 273.4,142.7 273.6,142.7 273.9,142.7 274.1,142.8 274.4,142.8 274.6,142.9 274.9,142.9 275.1,143.0 275.4,143.0 275.6,143.1 275.9,143.1 276.1,143.1 276.4,143.2 276.6,143.2 276.9,143.2 277.1,143.2 277.4,143.3 277.6,143.3 277.9,143.3 278.1,143.3 278.4,143.3 278.6,143.3 278.9,143.3 279.1,143.3 279.4,143.3 279.6,143.3 279.9,143.3 280.1,143.3 280.4,143.3 280.6,143.3 280.9,143.2 281.1,143.2 281.4,143.2 281.6,143.2 281.9,143.2 282.1,143.2 282.4,143.2 282.6,143.1 282.9,143.1 283.1,143.1 283.4,143.1 283.6,143.1 283.9,143.0 284.1,143.0 284.4,143.0 284.6,142.9 284.9,142.8 285.1,142.6 285.4,142.5 285.6,142.4 285.9,142.2 286.1,142.1 286.4,142.0 286.6,142.0 286.9,142.0 287.1,142.1 287.4,142.3 287.6,142.5 287.9,142.8 288.1,143.1 288.4,143.4 288.6,143.7 288.9,143.9 289.1,144.2 289.4,144.4 289.6,144.5 289.9,144.7 290.1,144.9 290.4,145.1 290.6,145.3 290.9,145.5 291.1,145.6 291.4,145.8 291.6,145.9 291.9,146.1 292.1,146.2 292.4,146.3 292.6,146.3 292.9,146.4 293.1,146.5 293.4,146.5 293.6,146.6 293.9,146.6 294.1,146.7 294.4,146.8 294.6,146.8 294.9,146.8 295.1,146.9 295.4,146.9 295.6,146.9 295.9,147.0 296.1,147.0 296.4,147.0 296.6,147.0 296.9,147.0 297.1,147.0 297.4,146.9 297.6,146.9 297.9,146.8 298.1,146.7 298.4,146.6 298.6,146.4 298.9,146.3 299.1,146.2 299.4,146.0 299.6,145.9 299.9,145.7 300.1,145.6 300.4,145.4 300.6,145.2 300.9,145.1 301.1,144.9 301.4,144.7 301.6,144.5 301.9,144.3 302.1,144.0 302.4,143.8 302.6,143.5 302.9,143.2 303.1,142.9 303.4,142.6 303.6,142.4 303.9,142.1 304.1,141.8 304.4,141.5 304.6,141.3 304.9,141.1 305.1,140.8 305.4,140.6 305.6,140.4 305.9,140.2 306.1,140.1 306.4,139.9 306.6,139.7 306.9,139.5 307.1,139.3 307.4,139.2 307.6,139.0 307.9,138.8 308.1,138.7 308.4,138.5 308.6,138.4 308.9,138.2 309.1,138.1 309.4,137.9 309.6,137.8 309.9,137.7 310.1,137.6 310.4,137.4 310.6,137.3 310.9,137.2 311.1,137.1 311.4,137.0 311.6,136.9 311.9,136.8 312.1,136.7 312.4,136.6 312.6,136.4 312.9,136.3 313.1,136.2 313.4,136.1 313.6,136.1 313.9,136.0 314.1,135.9 314.4,135.8 314.6,135.7 314.9,135.6 315.1,135.5 315.4,135.4 315.6,135.3 315.9,135.2 316.1,135.1 316.4,135.0 316.6,134.9 316.9,134.9 317.1,134.8 317.4,134.7 317.6,134.6 317.9,134.5 318.1,134.5 318.4,134.4 318.6,134.3 318.9,134.2"/>
<polyline points="46.9,123.0 47.1,123.0 47.4,123.0 47.6,123.0 47.9,123.0 48.1,123.0 48.4,123.0 48.6,123.0 48.9,123.0 49.1,123.0 49.4,123.0 49.6,123.0 49.9,123.0 50.1,123.0 50.4,122.9 50.6,122.8 50.9,122.7 51.1,122.6 51.4,122.4 51.6,122.2 51.9,121.9 52.1,121.7 52.4,121.5 52.6,121.3 52.9,121.0 53.1,120.7 53.4,120.3 53.6,119.9 53.9,119.5 54.1,119.1 54.4,118.7 54.6,118.3 54.9,117.8 55.1,117.3 55.4,116.8 55.6,116.3 55.9,115.8 56.1,115.3 56.4,114.8 56.6,114.3 56.9,113.7 57.1,113.2 57.4,112.7 57.6,112.2 57.9,111.7 58.1,111.2 58.4,110.8 58.6,110.5 58.9,110.2 59.1,109.8 59.4,109.4 59.6,108.9 59.9,108.4 60.1,107.7 60.4,106.9 60.6,105.8 60.9,104.6 61.1,102.6 61.4,100.1 61.6,98.0 61.9,96.0 62.1,94.3 62.4,93.6 62.6,94.1 62.9,95.5 63.1,97.3 63.4,99.2 63.6,102.0 63.9,104.6 64.2,106.6 64.4,108.4 64.7,109.9 64.9,111.3 65.2,112.6 65.4,113.6 65.7,114.5 65.9,115.3 66.2,116.0 66.4,116.6 66.7,117.0 66.9,117.3 67.2,117.6 67.4,117.9 67.7,118.1 67.9,118.3 68.2,118.4 68.4,118.5 68.7,118.5 68.9,118.5 69.2,118.5 69.4,118.5 69.7,118.5 69.9,118.5 70.2,118.5 70.4,118.5 70.7,118.5 70.9,118.5 71.2,118.5 71.4,118.4 71.7,118.3 71.9,118.0 72.2,117.7 72.4,117.4 72.7,117.0 72.9,116.6 73.2,116.1 73.4,115.5 73.7,114.8 73.9,113.9 74.2,112.9 74.4,111.6 74.7,109.9 74.9,107.8 75.2,105.4 75.4,101.9 75.7,98.0 75.9,94.5 76.2,90.8 76.4,89.0 76.7,90.9 76.9,94.6 77.2,97.8 77.4,101.2 77.7,104.4 77.9,106.8 78.2,108.8 78.4,110.6 78.7,112.0 78.9,113.1 79.2,114.0 79.4,114.8 79.7,115.5 79.9,116.1 80.2,116.7 80.4,117.1 80.7,117.5 80.9,117.8 81.2,118.1 81.4,118.4 81.7,118.7 81.9,118.9 82.2,119.2 82.4,119.4 82.7,119.7 82.9,120.0 83.2,120.3 83.4,120.5 83.7,120.7 83.9,120.8 84.2,120.8 84.4,120.6 84.7,120.3 84.9,119.9 85.2,119.5 85.4,119.2 85.7,118.8 85.9,118.3 86.2,117.9 86.4,117.4 86.7,116.9 86.9,116.4 87.2,115.9 87.4,115.3 87.7,114.6 87.9,114.1 88.2,114.0 88.4,114.3 88.7,115.0 88.9,115.8 89.2,116.5 89.4,117.0 89.7,117.6 89.9,118.2 90.2,118.7 90.4,119.2 90.7,119.5 90.9,119.8 91.2,120.0 91.4,120.2 91.7,120.4 91.9,120.5 92.2,120.5 92.4,120.4 92.7,120.1 92.9,119.8 93.2,119.4 93.4,118.9 93.7,118.5 93.9,118.0 94.2,117.5 94.4,116.9 94.7,116.2 94.9,115.5 95.2,114.8 95.4,114.1 95.7,113.4 95.9,112.7 96.2,112.0 96.4,111.2 96.7,110.4 96.9,109.5 97.2,108.5 97.4,107.4 97.7,106.1 97.9,104.8 98.2,103.2 98.4,101.0 98.7,99.0 98.9,98.2 99.2,99.4 99.4,102.1 99.7,104.9 99.9,107.3 100.2,109.6 100.4,111.0 100.7,111.5 100.9,111.9 101.2,112.1 101.4,112.2 101.7,111.9 101.9,111.2 102.2,110.2 102.4,109.1 102.7,107.8 102.9,106.0 103.2,104.1 103.4,102.3 103.7,100.8 103.9,99.5 104.2,98.2 104.4,96.9 104.7,95.6 104.9,94.2 105.2,92.8 105.4,91.4 105.7,89.9 105.9,88.3 106.2,86.3 106.4,84.0 106.7,80.2 106.9,75.6 107.2,71.9 107.4,68.5 107.7,65.4 107.9,62.4 108.2,59.6 108.4,56.6 108.7,53.3 108.9,50.1 109.2,47.6 109.4,46.1 109.7,46.4 109.9,48.5 110.2,51.7 110.4,55.3 110.7,58.5 110.9,61.3 111.2,64.3 111.4,66.3 111.7,66.5 111.9,66.4 112.2,66.2 112.4,66.0 112.7,65.7 112.9,65.3 113.2,64.9 113.4,64.2 113.7,63.0 113.9,61.4 114.2,59.4 114.4,56.2 114.7,53.0 114.9,50.9 115.2,51.8 115.4,56.8 115.7,61.7 115.9,64.1 116.2,66.1 116.4,67.7 116.7,69.1 116.9,70.2 117.2,71.1 117.4,71.9 117.7,72.5 117.9,73.4 118.2,74.5 118.4,76.5 118.7,79.4 118.9,82.4 119.2,85.6 119.4,88.9 119.7,91.8 119.9,94.2 120.2,96.3 120.4,98.3 120.7,100.1 120.9,101.7 121.2,103.2 121.4,104.5 121.7,105.7 121.9,106.7 122.2,107.7 122.4,108.6 122.7,109.5 122.9,110.3 123.2,111.0 123.4,111.7 123.7,112.4 123.9,113.0 124.2,113.7 124.4,114.3 124.7,114.9 124.9,115.5 125.2,116.1 125.4,116.6 125.7,117.1 125.9,117.6 126.2,118.1 126.4,118.6 126.7,119.0 126.9,119.4 127.2,119.8 127.4,120.1 127.7,120.5 127.9,120.8 128.2,121.2 128.4,121.5 128.7,121.9 128.9,122.2 129.2,122.5 129.4,122.8 129.7,123.1 129.9,123.3 130.2,123.6 130.4,123.8 130.7,123.9 130.9,124.1 131.2,124.2 131.4,124.2 131.7,124.2 131.9,124.2 132.2,124.1 132.4,124.1 132.7,124.1 132.9,124.0 133.2,124.0 133.4,123.9 133.7,123.8 133.9,123.8 134.2,123.8 134.4,123.7 134.7,123.7 134.9,123.7 135.2,123.8 135.4,123.9 135.7,124.1 135.9,124.4 136.2,124.6 136.4,124.9 136.7,125.2 136.9,125.6 137.2,125.9 137.4,126.1 137.7,126.4 137.9,126.6 138.2,126.7 138.4,126.8 138.7,126.8 138.9,126.9 139.2,127.0 139.4,127.1 139.7,127.1 139.9,127.2 140.2,127.2 140.4,127.3 140.7,127.3 140.9,127.4 141.2,127.4 141.4,127.5 141.7,127.5 141.9,127.5 142.2,127.5 142.4,127.5 142.7,127.3 142.9,127.1 143.2,126.8 143.4,126.4 143.7,126.1 143.9,125.9 144.2,125.7 144.4,125.6 144.7,125.4 144.9,125.3 145.2,125.2 145.4,125.1 145.7,125.0 145.9,125.0 146.2,125.0 146.4,125.2 146.7,125.4 146.9,125.7 147.2,126.0 147.4,126.3 147.7,126.6 147.9,126.8 148.2,127.0 148.4,127.1 148.7,127.1 148.9,127.2 149.2,127.2 149.4,127.3 149.7,127.3 149.9,127.4 150.2,127.4 150.4,127.4 150.7,127.5 150.9,127.5 151.2,127.5 151.4,127.5 151.7,127.5 151.9,127.5 152.2,127.4 152.4,127.4 152.7,127.3 152.9,127.2 153.2,127.1 153.4,127.0 153.7,126.9 153.9,126.7 154.2,126.6 154.4,126.4 154.7,126.1 154.9,125.8 155.2,125.6 155.4,125.3 155.7,125.1 155.9,125.0 156.2,125.1 156.4,125.4 156.7,125.9 156.9,126.3 157.2,126.6 157.4,126.7 157.7,126.6 157.9,126.5 158.2,126.4 158.4,126.3 158.7,126.1 158.9,125.9 159.2,125.8 159.4,125.6 159.7,125.3 159.9,124.2 160.2,119.0 160.4,113.9 160.7,114.8 160.9,120.9 161.2,125.6 161.4,125.7 161.7,125.2 161.9,124.7 162.2,124.3 162.4,124.2 162.7,124.6 162.9,125.3 163.2,126.0 163.4,126.7 163.7,127.0 163.9,127.0 164.2,127.0 164.4,127.0 164.7,127.0 164.9,127.0 165.2,127.0 165.4,127.0 165.7,127.0 165.9,127.0 166.2,127.0 166.4,127.0 166.7,127.0 166.9,127.0 167.2,127.0 167.4,127.0 167.7,126.9 167.9,126.7 168.2,126.4 168.4,126.1 168.7,125.9 168.9,125.8 169.2,125.8 169.4,125.9 169.7,126.1 169.9,126.3 170.2,126.5 170.4,126.8 170.7,127.0 170.9,127.3 171.2,127.4 171.4,127.5 171.7,127.5 171.9,127.5 172.2,127.4 172.4,127.3 172.7,127.2 172.9,127.1 173.2,126.9 173.4,126.8 173.7,126.6 173.9,126.4 174.2,126.3 174.4,126.1 174.7,125.9 174.9,125.7 175.2,125.5 175.4,125.2 175.7,124.9 175.9,124.6 176.2,124.3 176.4,124.2 176.7,124.3 176.9,125.0 177.2,125.7 177.4,125.8 177.7,125.8 177.9,125.8 178.2,125.8 178.4,125.8 178.7,125.8 178.9,125.8 179.2,125.8 179.4,125.8 179.7,125.8 179.9,125.7 180.2,125.1 180.4,124.2 180.7,123.2 180.9,122.6 181.2,122.7 181.4,123.5 181.7,124.6 181.9,125.6 182.2,126.1 182.4,126.5 182.7,126.9 182.9,127.2 183.2,127.5 183.4,127.7 183.7,127.9 183.9,128.0 184.2,128.0 184.4,128.0 184.7,127.9 184.9,127.8 185.2,127.7 185.4,127.5 185.7,127.4 185.9,127.3 186.2,127.2 186.4,127.0 186.7,126.9 186.9,126.9 187.2,126.8 187.4,126.7 187.7,126.6 187.9,126.5 188.2,126.4 188.4,126.4 188.7,126.3 188.9,126.2 189.2,126.1 189.4,126.0 189.7,125.9 189.9,125.8 190.2,125.6 190.4,125.5 190.7,125.3 190.9,125.2 191.2,125.0 191.4,124.9 191.7,124.7 191.9,124.5 192.2,124.3 192.4,124.1 192.7,123.8 192.9,123.6 193.2,123.4 193.4,123.1 193.7,122.8 193.9,122.4 194.2,122.1 194.4,121.7 194.7,121.2 194.9,120.8 195.2,120.3 195.4,119.8 195.7,119.3 195.9,118.7 196.2,117.9 196.4,117.0 196.7,116.2 196.9,115.6 197.2,115.3 197.4,115.3 197.7,115.4 197.9,115.5 198.2,115.4 198.4,115.1 198.7,114.4 198.9,113.4 199.2,111.7 199.4,107.8 199.7,103.4 199.9,96.0 200.2,60.0 200.4,9.6 200.7,50.0 200.9,68.1 201.2,78.5 201.4,85.2 201.7,91.3 201.9,97.8 202.2,102.8 202.4,106.8 202.7,109.5 202.9,111.5 203.2,111.9 203.4,112.1 203.7,112.2 203.9,112.3 204.2,112.3 204.4,112.1 204.7,111.9 204.9,111.7 205.2,111.7 205.4,111.7 205.7,111.8 205.9,111.8 206.2,111.8 206.4,111.9 206.7,112.0 206.9,112.0 207.2,112.1 207.4,112.2 207.7,112.3 207.9,112.3 208.2,112.4 208.4,112.4 208.7,112.5 208.9,112.5 209.2,112.5 209.4,112.5 209.7,112.5 209.9,112.5 210.2,112.5 210.4,112.5 210.7,112.5 210.9,112.5 211.2,112.5 211.4,112.5 211.7,112.5 211.9,112.5 212.2,112.5 212.4,112.5 212.7,112.5 212.9,112.5 213.2,112.5 213.4,112.5 213.7,112.5 213.9,112.4 214.2,112.4 214.4,112.3 214.7,112.2 214.9,112.1 215.2,112.0 215.4,111.8 215.7,111.6 215.9,111.5 216.2,111.3 216.4,111.1 216.7,110.8 216.9,110.4 217.2,109.8 217.4,109.3 217.7,109.3 217.9,109.6 218.2,110.1 218.4,110.6 218.7,110.8 218.9,110.8 219.2,110.7 219.4,110.5 219.7,110.3 219.9,110.0 220.2,109.8 220.4,109.5 220.7,109.3 220.9,109.1 221.2,108.9 221.4,108.8 221.7,108.6 221.9,108.4 222.2,108.2 222.4,108.1 222.7,107.9 222.9,107.7 223.2,107.5 223.4,107.3 223.7,107.2 223.9,107.0 224.2,106.7 224.4,106.5 224.7,106.3 224.9,106.1 225.2,105.9 225.4,105.7 225.7,105.5 225.9,105.2 226.2,105.0 226.4,104.7 226.7,104.5 226.9,104.1 227.2,103.8 227.4,103.5 227.7,103.0 227.9,102.6 228.2,102.0 228.4,101.4 228.7,100.6 228.9,99.9 229.2,99.0 229.4,98.1 229.7,97.2 229.9,96.1 230.2,94.8 230.4,93.3 230.7,90.8 230.9,87.8 231.2,85.9 231.4,85.7 231.7,85.5 231.9,85.4 232.2,85.4 232.4,85.3 232.7,85.3 232.9,85.2 233.2,85.1 233.4,84.9 233.7,84.4 233.9,83.5 234.2,82.5 234.4,81.3 234.7,80.2 234.9,79.1 235.2,77.9 235.4,76.6 235.7,75.2 235.9,73.8 236.2,72.5 236.4,71.2 236.7,69.9 236.9,68.5 237.2,67.2 237.4,65.9 237.7,64.7 237.9,63.7 238.2,62.8 238.4,61.8 238.7,60.9 238.9,60.1 239.2,59.5 239.4,59.2 239.7,59.3 239.9,59.8 240.2,60.6 240.4,61.6 240.7,62.6 240.9,63.8 241.2,65.1 241.4,66.8 241.7,68.7 241.9,70.6 242.2,72.5 242.4,74.3 242.7,76.0 242.9,77.6 243.2,79.2 243.4,80.7 243.7,82.3 243.9,83.9 244.2,85.5 244.4,87.1 244.7,88.5 244.9,90.1 245.2,92.0 245.4,94.5 245.7,98.6 245.9,100.3 246.2,101.1 246.4,101.7 246.7,102.3 246.9,102.7 247.2,103.0 247.4,103.3 247.7,103.6 247.9,103.8 248.2,104.0 248.4,104.3 248.7,104.6 248.9,104.8 249.2,105.1 249.4,105.3 249.7,105.5 249.9,105.7 250.2,106.0 250.4,106.1 250.7,106.3 250.9,106.5 251.2,106.7 251.4,106.9 251.7,107.0 251.9,107.2 252.2,107.3 252.4,107.4 252.7,107.6 252.9,107.7 253.2,107.8 253.4,108.0 253.7,108.1 253.9,108.2 254.2,108.3 254.4,108.4 254.7,108.5 254.9,108.6 255.2,108.7 255.4,108.8 255.7,108.9 255.9,108.9 256.1,109.0 256.4,109.1 256.6,109.2 256.9,109.3 257.1,109.3 257.4,109.4 257.6,109.5 257.9,109.6 258.1,109.6 258.4,109.7 258.6,109.7 258.9,109.7 259.1,109.6 259.4,109.5 259.6,109.3 259.9,109.1 260.1,108.8 260.4,108.5 260.6,108.2 260.9,107.9 261.1,107.6 261.4,107.3 261.6,107.1 261.9,106.7 262.1,106.3 262.4,105.9 262.6,105.5 262.9,105.3 263.1,105.4 263.4,105.7 263.6,106.1 263.9,106.5 264.1,106.7 264.4,106.7 264.6,106.7 264.9,106.6 265.1,106.6 265.4,106.6 265.6,106.5 265.9,106.5 266.1,106.4 266.4,106.4 266.6,106.3 266.9,106.3 267.1,106.2 267.4,106.2 267.6,106.1 267.9,106.1 268.1,106.1 268.4,106.0 268.6,106.0 268.9,105.9 269.1,105.9 269.4,105.9 269.6,105.8 269.9,105.8 270.1,105.8 270.4,105.8 270.6,105.8 270.9,105.7 271.1,105.7 271.4,105.7 271.6,105.7 271.9,105.7 272.1,105.7 272.4,105.7 272.6,105.7 272.9,105.7 273.1,105.6 273.4,105.6 273.6,105.6 273.9,105.6 274.1,105.6 274.4,105.6 274.6,105.6 274.9,105.6 275.1,105.6 275.4,105.6 275.6,105.6 275.9,105.5 276.1,105.5 276.4,105.5 276.6,105.5 276.9,105.5 277.1,105.5 277.4,105.5 277.6,105.4 277.9,105.4 278.1,105.4 278.4,105.4 278.6,105.4 278.9,105.4 279.1,105.4 279.4,105.3 279.6,105.3 279.9,105.3 280.1,105.3 280.4,105.3 280.6,105.3 280.9,105.2 281.1,105.2 281.4,105.2 281.6,105.2 281.9,105.2 282.1,105.1 282.4,105.1 282.6,105.1 282.9,105.0 283.1,105.0 283.4,105.0 283.6,104.9 283.9,104.9 284.1,104.8 284.4,104.8 284.6,104.7 284.9,104.6 285.1,104.6 285.4,104.5 285.6,104.4 285.9,104.3 286.1,104.2 286.4,104.1 286.6,104.0 286.9,103.9 287.1,103.8 287.4,103.7 287.6,103.6 287.9,103.5 288.1,103.4 288.4,103.2 288.6,103.1 288.9,103.0 289.1,103.0 289.4,103.0 289.6,103.1 289.9,103.2 290.1,103.3 290.4,103.5 290.6,103.7 290.9,103.8 291.1,104.0 291.4,104.1 291.6,104.2 291.9,104.2 292.1,104.3 292.4,104.3 292.6,104.4 292.9,104.4 293.1,104.5 293.4,104.5 293.6,104.5 293.9,104.6 294.1,104.6 294.4,104.6 294.6,104.7 294.9,104.7 295.1,104.7 295.4,104.7 295.6,104.7 295.9,104.7 296.1,104.5 296.4,104.2 296.6,103.9 296.9,103.5 297.1,103.2 297.4,103.0 297.6,103.0 297.9,103.1 298.1,103.2 298.4,103.4 298.6,103.5 298.9,103.6 299.1,103.7 299.4,103.7 299.6,103.6 299.9,103.6 300.1,103.5 300.4,103.3 300.6,103.2 300.9,103.0 301.1,102.8 301.4,102.6 301.6,102.4 301.9,102.2 302.1,102.1 302.4,101.9 302.6,101.7 302.9,101.5 303.1,101.4 303.4,101.3 303.6,101.1 303.9,101.0 304.1,100.9 304.4,100.8 304.6,100.7 304.9,100.6 305.1,100.5 305.4,100.4 305.6,100.3 305.9,100.2 306.1,100.1 306.4,100.0 306.6,99.9 306.9,99.8 307.1,99.7 307.4,99.6 307.6,99.5 307.9,99.4 308.1,99.3 308.4,99.2 308.6,99.0 308.9,98.9 309.1,98.8 309.4,98.7 309.6,98.6 309.9,98.4 310.1,98.3 310.4,98.2 310.6,98.1 310.9,97.9 311.1,97.8 311.4,97.7 311.6,97.6 311.9,97.4 312.1,97.3 312.4,97.2 312.6,97.0 312.9,96.9 313.1,96.8 313.4,96.6 313.6,96.5 313.9,96.4 314.1,96.3 314.4,96.1 314.6,96.0 314.9,95.9 315.1,95.7 315.4,95.6 315.6,95.5 315.9,95.4 316.1,95.2 316.4,95.1 316.6,95.0 316.9,94.8 317.1,94.7 317.4,94.6 317.6,94.4 317.9,94.3 318.1,94.2 318.4,94.0 318.6,93.9 318.9,93.8"/>
</g>
<g stroke="#111" stroke-width="0.2">
<text transform="translate(37.5,268.1) scale(1.05,1)" font-size="10.6" text-anchor="end" >0.00</text>
<text transform="translate(37.5,235.5) scale(1.05,1)" font-size="10.6" text-anchor="end" >0.05</text>
<text transform="translate(37.5,202.9) scale(1.05,1)" font-size="10.6" text-anchor="end" >0.10</text>
<text transform="translate(37.5,170.3) scale(1.05,1)" font-size="10.6" text-anchor="end" >0.15</text>
<text transform="translate(37.5,137.7) scale(1.05,1)" font-size="10.6" text-anchor="end" >0.20</text>
<text transform="translate(37.5,105.0) scale(1.05,1)" font-size="10.6" text-anchor="end" >0.25</text>
<text transform="translate(37.5,72.4) scale(1.05,1)" font-size="10.6" text-anchor="end" >0.30</text>
<text transform="translate(37.5,39.8) scale(1.05,1)" font-size="10.6" text-anchor="end" >0.35</text>
<text transform="translate(37.5,8.0) scale(1.05,1)" font-size="10.6" text-anchor="end" >0.40</text>
<text transform="translate(47.2,288.6) scale(1.03,1)" font-size="10.6" text-anchor="middle" >3800</text>
<text transform="translate(115.2,288.6) scale(1.03,1)" font-size="10.6" text-anchor="middle" >3700</text>
<text transform="translate(183.1,288.6) scale(1.03,1)" font-size="10.6" text-anchor="middle" >3600</text>
<text transform="translate(251.1,288.6) scale(1.03,1)" font-size="10.6" text-anchor="middle" >3500</text>
<text transform="translate(319.1,288.6) scale(1.03,1)" font-size="10.6" text-anchor="middle" >3400</text>
<text transform="translate(141.5,303.0) scale(1.03,1)" font-size="10.6" text-anchor="start" >Wavenumber (cm<tspan font-size="6.5" dy="-3.8" dx="0.6">−1</tspan><tspan dy="3.8" dx="0.5">)</tspan></text>
<text transform="translate(8.5,174.5) rotate(-90) scale(1.035,0.93)" font-size="10.6" text-anchor="start" >Absorbance</text>
<text transform="translate(313.0,257.0) scale(1.03,1)" font-size="10.6" text-anchor="start" >(a)</text>
<text transform="translate(313.0,223.3) scale(1.03,1)" font-size="10.6" text-anchor="start" >(b)</text>
<text transform="translate(313.0,127.0) scale(1.03,1)" font-size="10.6" text-anchor="start" >(c)</text>
<text transform="translate(313.0,87.0) scale(1.03,1)" font-size="10.6" text-anchor="start" >(d)</text>
<text transform="translate(241.7,55.0) rotate(-90) scale(1.07,1.05)" font-size="11" text-anchor="start" >(H<tspan font-size="8" dy="2.5">2</tspan><tspan dy="-2.5">O)</tspan><tspan font-size="8" dy="2.5">3</tspan></text>
<text transform="translate(203.3,216.0) rotate(-90) scale(1.1,1.05)" font-size="11" text-anchor="start" >(H<tspan font-size="8" dy="2.5">2</tspan><tspan dy="-2.5">O)</tspan><tspan font-size="8" dy="2.5">2</tspan></text>
<text transform="translate(101.4,193.5) rotate(-90) scale(0.95,1.1)" font-size="9.8" text-anchor="start" >1:1</text>
<text transform="translate(164.3,207.8) rotate(-90) scale(0.97,1.12)" font-size="9.8" text-anchor="start" >1:1</text>
</g>
<path d="M98.7,197.5 L98.7,207.4" stroke="#333" stroke-width="1.1" fill="none"/><path d="M98.7,212.2 L97.0,207.4 L100.4,207.4 Z" fill="#111"/>
<path d="M162.0,212.3 L162.0,216.7" stroke="#333" stroke-width="1.1" fill="none"/><path d="M162.0,221.5 L160.3,216.7 L163.7,216.7 Z" fill="#111"/>
<path d="M181.1,105.2 L181.1,112.5" stroke="#333" stroke-width="1.1" fill="none"/><path d="M181.1,117.3 L179.4,112.5 L182.8,112.5 Z" fill="#111"/>
<path d="M191.2,101.1 L194.0,108.0" stroke="#333" stroke-width="1.1" fill="none"/><path d="M195.8,112.4 L192.4,108.6 L195.6,107.3 Z" fill="#111"/>
<path d="M262.6,89.2 L262.6,96.0" stroke="#333" stroke-width="1.1" fill="none"/><path d="M262.6,100.8 L260.9,96.0 L264.3,96.0 Z" fill="#111"/>
<path d="M289.4,87.2 L289.4,93.7" stroke="#333" stroke-width="1.1" fill="none"/><path d="M289.4,98.5 L287.7,93.7 L291.1,93.7 Z" fill="#111"/>
<path d="M297.6,87.2 L297.6,93.7" stroke="#333" stroke-width="1.1" fill="none"/><path d="M297.6,98.5 L295.9,93.7 L299.2,93.7 Z" fill="#111"/>
<text x="180.6" y="106.2" font-size="12.8" text-anchor="middle" style="font-family:'DejaVu Sans',sans-serif;font-weight:bold" stroke="#111" stroke-width="0.3">*</text>
<text x="190.8" y="101.4" font-size="12.8" text-anchor="middle" style="font-family:'DejaVu Sans',sans-serif;font-weight:bold" stroke="#111" stroke-width="0.3">*</text>
<text x="262.4" y="88.1" font-size="12.8" text-anchor="middle" style="font-family:'DejaVu Sans',sans-serif;font-weight:bold" stroke="#111" stroke-width="0.3">*</text>
<text x="289.0" y="87.0" font-size="12.8" text-anchor="middle" style="font-family:'DejaVu Sans',sans-serif;font-weight:bold" stroke="#111" stroke-width="0.3">*</text>
<text x="297.1" y="87.0" font-size="12.8" text-anchor="middle" style="font-family:'DejaVu Sans',sans-serif;font-weight:bold" stroke="#111" stroke-width="0.3">*</text>
</svg></body></html>
